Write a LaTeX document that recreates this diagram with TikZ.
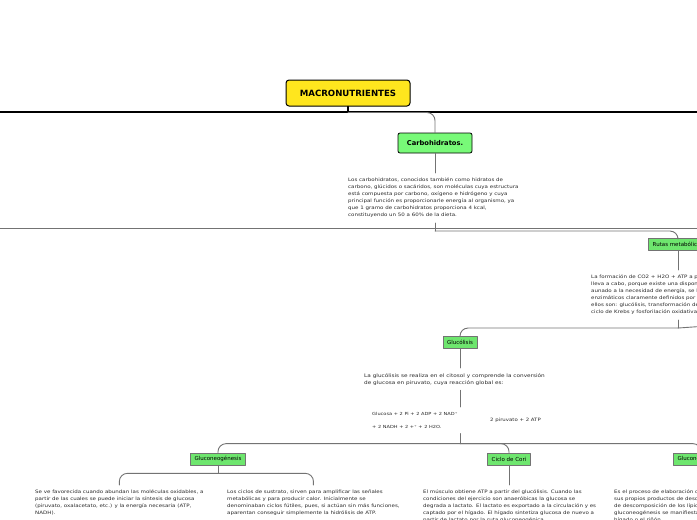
\documentclass[tikz,border=0pt]{standalone}
\usepackage{fontspec}
\setmainfont{DejaVu Sans}
\newfontfamily\notefont{DejaVu Sans}[FakeStretch=1.2]
\usetikzlibrary{positioning}
\definecolor{macroyellow}{RGB}{255,230,30}
\definecolor{topicgreen}{RGB}{120,250,120}
\definecolor{subgreen}{RGB}{110,230,110}
\definecolor{linkgray}{RGB}{115,115,115}
\definecolor{notegray}{RGB}{40,40,40}
\tikzset{
  mainbox/.style={draw=black, fill=macroyellow, rounded corners=3pt, line width=1pt,
    font=\fontsize{8.6}{9}\selectfont\bfseries, minimum width=124pt, minimum height=26pt},
  topicbox/.style={draw=black, fill=topicgreen, rounded corners=2pt, line width=0.8pt,
    font=\fontsize{6.7}{8}\selectfont\bfseries, minimum width=74pt, minimum height=20pt},
  subbox/.style={draw=linkgray, fill=subgreen, line width=0.7pt,
    font=\fontsize{5.5}{6}\selectfont, minimum height=12pt, inner xsep=4pt, inner ysep=0pt},
  note/.style={align=left, font=\notefont\fontsize{4.6}{7}\selectfont, text=notegray,
    inner xsep=0pt, inner ysep=5pt, anchor=north west},
  link/.style={draw=linkgray, line width=0.9pt},
  branch/.style={link, rounded corners=8pt},
}
\begin{document}
\begin{tikzpicture}[x=1pt, y=-1pt, line join=round, line cap=round]
\useasboundingbox (0,0) rectangle (697,520);
\clip (0,0) rectangle (697,520);
% boxes
\node[mainbox] (macro) at (348,93) {MACRONUTRIENTES};
\node[topicbox] (carb) at (435,143) {Carbohidratos.};
\node[subbox] (rutas) at (678,244) {Rutas metabólicas};
\node[subbox] (glucol) at (460,342) {Glucólisis};
\node[subbox] (gneo) at (218,459) {Gluconeogénesis};
\node[subbox] (cori) at (509,459) {Ciclo de Cori};
\node[subbox] (gneoR) at (701,459) {Gluconeogénesis};
% notes
\node[note] (carbtxt) at (348,173) {Los carbohidratos, conocidos también como hidratos de\\
  carbono, glúcidos o sacáridos, son moléculas cuya estructura\\
  está compuesta por carbono, oxígeno e hidrógeno y cuya\\
  principal función es proporcionarle energía al organismo, ya\\
  que 1 gramo de carbohidratos proporciona 4 kcal,\\
  constituyendo un 50 a 60\% de la dieta.};
\node[note] (rutastxt) at (591,270) {La formación de CO2 + H2O + ATP a partir de la glucosa se\\
  lleva a cabo, porque existe una disponibilidad de oxígeno,\\
  aunado a la necesidad de energía, se lleva a cabo en pasos\\
  enzimáticos claramente definidos por rutas metabólicas,\\
  ellos son: glucólisis, transformación del piruvato,\\
  ciclo de Krebs y fosforilación oxidativa.};
\node[note, font=\notefont\fontsize{4.8}{7}\selectfont] (glucoltxt) at (364,368) {La glucólisis se realiza en el citosol y comprende la conversión\\
  de glucosa en piruvato, cuya reacción global es:};
\node[note, font=\notefont\fontsize{4.2}{6.5}\selectfont] (reac) at (372,407) {Glucosa + 2 Pi + 2 ADP + 2 NAD⁺\\
  \hspace*{118pt}\fontsize{4.5}{6.5}\selectfont 2 piruvato + 2 ATP\\
  + 2 NADH + 2 +⁺ + 2 H2O.};
\node[note] (gneotxt) at (35,485) {Se ve favorecida cuando abundan las moléculas oxidables, a\\
  partir de las cuales se puede iniciar la síntesis de glucosa\\
  (piruvato, oxalacetato, etc.) y la energía necesaria (ATP,\\
  NADH).};
\node[note] (ciclostxt) at (227,485) {Los ciclos de sustrato, sirven para amplificar las señales\\
  metabólicas y para producir calor. Inicialmente se\\
  denominaban ciclos fútiles, pues, si actúan sin más funciones,\\
  aparentan conseguir simplemente la hidrólisis de ATP.};
\node[note] (coritxt) at (423,485) {El músculo obtiene ATP a partir del glucólisis. Cuando las\\
  condiciones del ejercicio son anaeróbicas la glucosa se\\
  degrada a lactato. El lactato es exportado a la circulación y es\\
  captado por el hígado. El hígado sintetiza glucosa de nuevo a\\
  partir de lactato por la ruta gluconeogénica.};
\node[note] (gneoRtxt) at (614,485) {Es el proceso de elaboración de glucosa a partir de\\
  sus propios productos de descomposición o de los\\
  de descomposición de los lípidos o proteínas. La\\
  gluconeogénesis se manifiesta sobre todo en el\\
  hígado o el riñón.};
% bars and free ends
\coordinate (barA) at ([yshift=-6pt]macro.south);
\coordinate (edgeAL) at (-10,112);
\coordinate (edgeAR) at (707,112);
\path (carb.south |- carbtxt.south) ++(0,8) coordinate (barB);
\coordinate (edgeBL) at (-10,228);
\coordinate (edgeBR) at (707,228);
\path (rutas.south |- rutastxt.south) ++(0,8) coordinate (barC);
\coordinate (edgeCR) at (707,326);
\path (glucol.south |- reac.south) ++(0,10) coordinate (barD);
\path (gneo.south) ++(0,8) coordinate (barE);
\path (ciclostxt.south) ++(0,20) coordinate (ciclosdown);
% connectors
\draw[black, line width=1.2pt] (macro.south) -- (barA);
\draw[black, line width=1.2pt] (edgeAL) -- (edgeAR);
\draw[branch] (barA) -| (carb.north);
\draw[link] (carb.south) -- (carb.south |- carbtxt.north);
\draw[link] (carb.south |- carbtxt.south) -- (barB);
\draw[link] (edgeBL) -- (edgeBR);
\draw[branch] (barB) -| (rutas.north);
\draw[link] (rutas.south) -- (rutas.south |- rutastxt.north);
\draw[link] (rutas.south |- rutastxt.south) -- (barC);
\draw[link] (barC) -- (edgeCR);
\draw[branch] (barC) -| (glucol.north);
\draw[link] (glucol.south) -- (glucol.south |- glucoltxt.north);
\draw[link] (glucol.south |- glucoltxt.south) -- (glucol.south |- reac.north);
\draw[link] (glucol.south |- reac.south) -- (barD);
\draw[branch] (barD) -| (gneo.north);
\draw[branch] (barD) -| (cori.north);
\draw[branch] (barD) -| (gneoR.north);
\draw[link] (gneo.south) -- (barE);
\draw[branch] (barE) -| (gneotxt.north);
\draw[branch] (barE) -| (ciclostxt.north);
\draw[link] (cori.south) -- (cori.south |- coritxt.north);
\draw[link] (gneoR.south) -- (gneoR.south |- gneoRtxt.north);
\draw[link] (ciclostxt.south) -- (ciclosdown);
\end{tikzpicture}
\end{document}
